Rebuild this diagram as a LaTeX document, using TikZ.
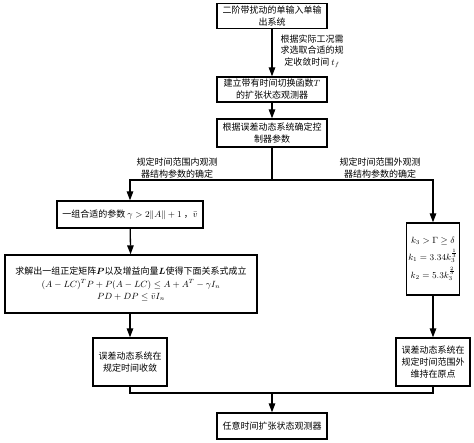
\documentclass[tikz,border=0pt]{standalone}
\usepackage{fontspec}
\usepackage{amsmath,amssymb,bm}
\newfontfamily\cjk{Noto Sans CJK SC}
\usetikzlibrary{arrows.meta}
\tikzset{
  box/.style={draw, line width=1.3pt, align=center, font=\cjk\fontsize{9}{12}\selectfont, inner sep=2pt},
  lbl/.style={align=center, font=\cjk\fontsize{9}{11.5}\selectfont, inner sep=0pt},
  ln/.style={line width=1.3pt},
  arr/.style={line width=1.3pt, -{Triangle[width=6.5pt,length=9pt]}}
}
\begin{document}
\begin{tikzpicture}[x=1pt,y=-1pt]
\useasboundingbox[fill=white] (0,0) rectangle (474,443);
\node[box, minimum width=110pt, minimum height=25pt] (b1) at (272,16) {二阶带扰动的单输入单输\\出系统};
\node[box, minimum width=110pt, minimum height=25pt] (b2) at (272,89.5) {建立带有时间切换函数$T$\\的扩张状态观测器};
\node[box, minimum width=110pt, minimum height=28pt] (b3) at (272,133) {根据误差动态系统确定控\\制器参数};
\node[box, minimum width=146pt, minimum height=27pt] (b4) at (130,214.5) {一组合适的参数 $\gamma>2\|A\|+1$ ，$\bar{v}$};
\node[box, minimum width=252pt, minimum height=58pt] (b5) at (131,284) {求解出一组正定矩阵$\bm{P}$以及增益向量$\bm{L}$使得下面关系式成立\\[1pt]
$(A-LC)^T P+P(A-LC)\le A+A^T-\gamma I_n$\\
$PD+DP\le\bar{v}I_n$};
\node[box, minimum width=74pt, minimum height=48pt] (b6) at (130,362) {误差动态系统在\\规定时间收敛};
\node[box, minimum width=52pt, minimum height=72pt] (b7) at (433,259) {$k_3>\Gamma\ge\delta$\\[3pt] $k_1=3.34k_3^{\frac{1}{3}}$\\[3pt] $k_2=5.3k_3^{\frac{2}{3}}$};
\node[box, minimum width=74pt, minimum height=48pt] (b8) at (433,362) {误差动态系统在\\规定时间范围外\\维持在原点};
\node[box, minimum width=110pt, minimum height=26pt] (b9) at (272,426) {任意时间扩张状态观测器};
\node[lbl] (l1) at (312,51) {根据实际工况需\\求选取合适的规\\定收敛时间 $t_f$};
\node[lbl] (l2) at (177,168) {规定时间范围内观测\\器结构参数的确定};
\node[lbl] (l3) at (380,168) {规定时间范围外观测\\器结构参数的确定};
\coordinate (sp) at (272,180);
\coordinate (jn) at (272,393);
\draw[arr] (b1) -- (b2);
\draw[arr] (b2) -- (b3);
\draw[ln] (b3.south) -- (sp);
\draw[arr] (sp) -| (b4.north);
\draw[arr] (sp) -| (b7.north);
\draw[arr] (b4) -- (b5);
\draw[arr] (b5.south -| b6.north) -- (b6.north);
\draw[arr] (b7) -- (b8);
\draw[ln] (b6.south) |- (jn);
\draw[ln] (b8.south) |- (jn);
\draw[arr] (jn) -- (b9);
\end{tikzpicture}
\end{document}
